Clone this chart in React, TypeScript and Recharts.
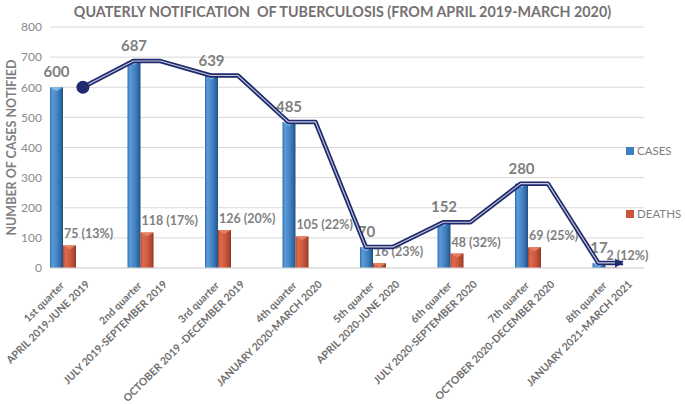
import { ComposedChart, LineChart, Bar, Line, XAxis, YAxis, CartesianGrid, LabelList } from "recharts";

const quarters = ["1st quarter", "2nd quarter", "3rd quarter", "4th quarter", "5th quarter", "6th quarter", "7th quarter", "8th quarter"];
const periods = [
  "APRIL 2019-JUNE 2019",
  "JULY 2019-SEPTEMBER 2019",
  "OCTOBER 2019 -DECEMBER 2019",
  "JANUARY 2020-MARCH 2020",
  "APRIL 2020-JUNE 2020",
  "JULY 2020-SEPTEMBER 2020",
  "OCTOBER 2020-DECEMBER 2020",
  "JANUARY 2021-MARCH 2021",
];
const cases = [600, 687, 639, 485, 70, 152, 280, 17];
const deaths = [75, 118, 126, 105, 16, 48, 69, 2];
const deathPct = [13, 17, 20, 22, 23, 32, 25, 12];
const yTicks = [0, 100, 200, 300, 400, 500, 600, 700, 800];

const data = quarters.map((q, i) => ({ quarter: q, cases: cases[i], deaths: deaths[i] }));

// trend line: flat step over each quarter, starts after the 1st bar, ends in an arrow
const trend: { x: number; v: number }[] = [];
cases.forEach((v, i) => {
  if (i > 0) trend.push({ x: i + 0.41, v });
  trend.push({ x: i === cases.length - 1 ? i + 0.73 : i + 0.76, v });
});

const FONT = "Lato, 'Open Sans', sans-serif";
const GRAY = "#7f7f7f";
const NAVY = "#1f2b6e";

const W = 685;
const H = 404;

const makeBar = (grad: string, cap: string) => (props: any) => {
  const { x, y, width, height } = props;
  if (!height || height <= 0) return <g />;
  return (
    <g>
      <rect x={x} y={y} width={width} height={height} fill={`url(#${grad})`} />
      <polygon points={`${x},${y} ${x + width},${y} ${x + width / 2},${y + Math.min(4, height)}`} fill={cap} opacity={0.85} />
    </g>
  );
};

const QuarterTick = (props: any) => {
  const { x, y, payload } = props;
  const i = quarters.indexOf(payload.value);
  return (
    <g transform={`translate(${x},${y}) rotate(-45)`}>
      <text x={-10} y={13} textAnchor="end" fill="#6f6f6f" fontSize={10.5} fontWeight="bold" fontFamily={FONT}>
        {quarters[i]}
      </text>
      <text x={9} y={30} textAnchor="end" fill="#6f6f6f" fontSize={10.5} fontWeight="bold" fontFamily={FONT}>
        {periods[i]}
      </text>
    </g>
  );
};

const DeathLabel = (p: any) => {
  const i = p.index;
  return (
    <text x={p.x + 1} y={Math.min(p.y - 7, 262)} fill={GRAY} fontSize={12.5} fontWeight="bold" fontFamily={FONT}>
      {`${deaths[i]} (${deathPct[i]}%)`}
    </text>
  );
};

const TrendDot = (p: any) => {
  const { cx, cy, index } = p;
  if (index === 0) return <circle key="d0" cx={cx} cy={cy} r={6.5} fill={NAVY} />;
  if (index === trend.length - 1)
    return <polygon key="arr" points={`${cx},${cy} ${cx - 8},${cy - 4.5} ${cx - 8},${cy + 4.5}`} fill={NAVY} />;
  return <g key={`e${index}`} />;
};

const App = () => {
  return (
    <div style={{ position: "absolute", left: 0, top: 0, width: W, height: H, background: "#fff", fontFamily: FONT }}>
      <div
        style={{
          position: "absolute",
          top: 3,
          left: 0,
          width: W,
          textAlign: "center",
          whiteSpace: "pre",
          fontSize: 14.3,
          fontWeight: "bold",
          color: "#767171",
        }}
      >
        QUATERLY NOTIFICATION  OF TUBERCULOSIS (FROM APRIL 2019-MARCH 2020)
      </div>

      <div style={{ position: "absolute", left: 0, top: 0 }}>
        <ComposedChart width={W} height={H} data={data} margin={{ top: 27, right: 41, left: 0, bottom: 0 }} barGap={0}>
          <defs>
            <linearGradient id="gBlue" x1="0" y1="0" x2="1" y2="0">
              <stop offset="0%" stopColor="#2f6fae" />
              <stop offset="18%" stopColor="#5b9bd8" />
              <stop offset="55%" stopColor="#4584c4" />
              <stop offset="85%" stopColor="#2e67a2" />
              <stop offset="100%" stopColor="#1f4e7e" />
            </linearGradient>
            <linearGradient id="gRed" x1="0" y1="0" x2="1" y2="0">
              <stop offset="0%" stopColor="#b8452f" />
              <stop offset="18%" stopColor="#dc6a4c" />
              <stop offset="55%" stopColor="#cc5a3d" />
              <stop offset="85%" stopColor="#b04630" />
              <stop offset="100%" stopColor="#8c3322" />
            </linearGradient>
          </defs>
          <CartesianGrid vertical={false} stroke="#d9d9d9" />
          <XAxis
            dataKey="quarter"
            height={136}
            padding={{ left: -26, right: 0 }}
            axisLine={{ stroke: "#d9d9d9" }}
            tickLine={false}
            tickSize={0}
            tickMargin={2}
            interval={0}
            tick={<QuarterTick />}
          />
          <YAxis
            width={50}
            domain={[0, 800]}
            ticks={yTicks}
            axisLine={false}
            tickLine={false}
            tick={{ fill: "#8a8a8a", fontSize: 12, fontFamily: FONT }}
            label={{
              value: "NUMBER OF CASES NOTIFIED",
              angle: -90,
              position: "insideLeft",
              dx: 7,
              dy: 0,
              style: { fill: GRAY, fontSize: 12.5, fontWeight: "bold", fontFamily: FONT, textAnchor: "middle" },
            }}
          />
          <Bar dataKey="cases" barSize={13} shape={makeBar("gBlue", "#8cc0ec")} isAnimationActive={false}>
            <LabelList dataKey="cases" position="top" offset={10} fill={GRAY} fontSize={15} fontWeight="bold" fontFamily={FONT} />
          </Bar>
          <Bar dataKey="deaths" barSize={13} shape={makeBar("gRed", "#e8866a")} isAnimationActive={false}>
            <LabelList dataKey="deaths" content={<DeathLabel />} />
          </Bar>
        </ComposedChart>
      </div>

      <div style={{ position: "absolute", left: 0, top: 0, pointerEvents: "none" }}>
        <LineChart width={W} height={H} data={trend} margin={{ top: 27, right: 41, left: 24, bottom: 136 }}>
          <XAxis type="number" dataKey="x" domain={[0, 8]} hide />
          <YAxis domain={[0, 800]} hide />
          <Line dataKey="v" type="linear" stroke={NAVY} strokeWidth={4.5} dot={false} isAnimationActive={false} strokeLinejoin="round" />
          <Line dataKey="v" type="linear" stroke="#ffffff" strokeWidth={1.1} strokeOpacity={0.75} dot={TrendDot} activeDot={false} isAnimationActive={false} />
        </LineChart>
      </div>

      <div style={{ position: "absolute", left: 626, top: 144, display: "flex", alignItems: "center", fontSize: 11.5, color: GRAY }}>
        <span style={{ display: "inline-block", width: 8, height: 8, background: "#3d7ec0", marginRight: 3 }} />
        CASES
      </div>
      <div style={{ position: "absolute", left: 626, top: 207, display: "flex", alignItems: "center", fontSize: 11.5, color: GRAY }}>
        <span style={{ display: "inline-block", width: 8, height: 8, background: "#c9553b", marginRight: 3 }} />
        DEATHS
      </div>
    </div>
  );
};

export default App;
